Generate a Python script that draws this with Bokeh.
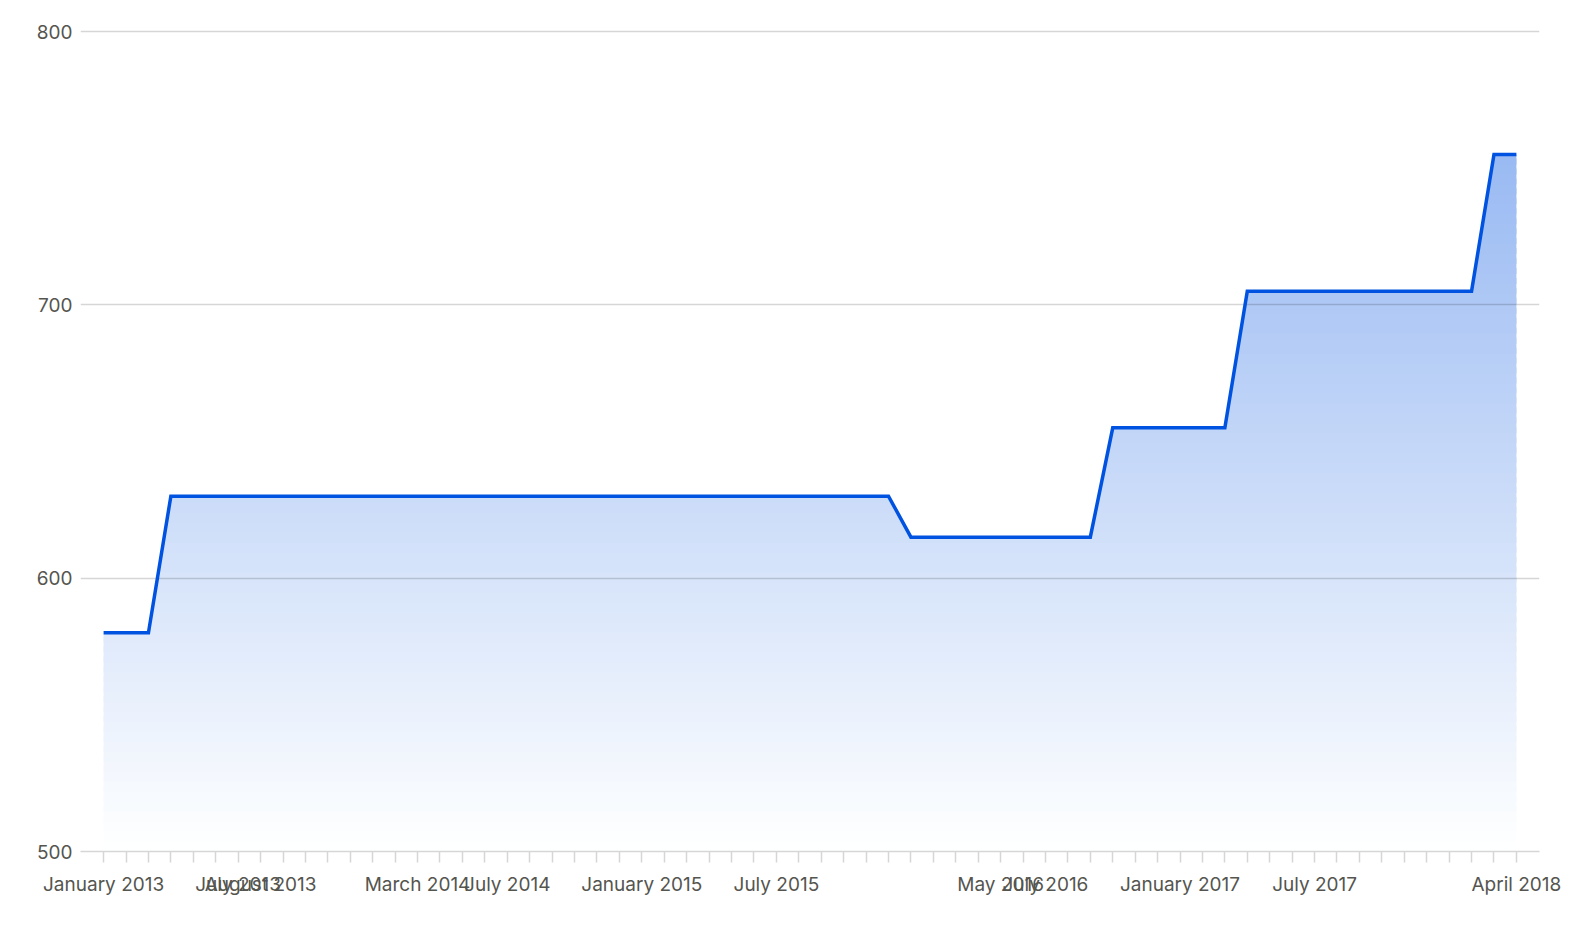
import numpy as np
from bokeh.plotting import figure
from bokeh.models import FixedTicker, Range1d
from bokeh.embed import file_html
from bokeh.resources import INLINE

# ---------------- data ----------------
months = [
    "2013-01", "2013-02", "2013-03", "2013-04", "2013-05", "2013-06", "2013-07", "2013-08",
    "2013-09", "2013-10", "2013-11", "2013-12", "2014-01", "2014-02", "2014-03", "2014-04",
    "2014-05", "2014-06", "2014-07", "2014-08", "2014-09", "2014-10", "2014-11", "2014-12",
    "2015-01", "2015-02", "2015-03", "2015-04", "2015-05", "2015-06", "2015-07", "2015-08",
    "2015-09", "2015-10", "2015-11", "2015-12", "2016-01", "2016-02", "2016-03", "2016-04",
    "2016-05", "2016-06", "2016-07", "2016-08", "2016-09", "2016-10", "2016-11", "2016-12",
    "2017-01", "2017-02", "2017-03", "2017-04", "2017-05", "2017-06", "2017-07", "2017-08",
    "2017-09", "2017-10", "2017-11", "2017-12", "2018-01", "2018-02", "2018-03", "2018-04",
]
values = [
    580, 580, 580, 630, 630, 630, 630, 630,
    630, 630, 630, 630, 630, 630, 630, 630,
    630, 630, 630, 630, 630, 630, 630, 630,
    630, 630, 630, 630, 630, 630, 630, 630,
    630, 630, 630, 630, 615, 615, 615, 615,
    615, 615, 615, 615, 615, 655, 655, 655,
    655, 655, 655, 705, 705, 705, 705, 705,
    705, 705, 705, 705, 705, 705, 755, 755,
]
label_months = ["2013-01", "2013-07", "2013-08", "2014-03", "2014-07", "2015-01",
                "2015-07", "2016-05", "2016-07", "2017-01", "2017-07", "2018-04"]
label_text = ["January 2013", "July 2013", "August 2013", "March 2014", "July 2014",
              "January 2015", "July 2015", "May 2016", "July 2016", "January 2017",
              "July 2017", "April 2018"]
y_ticks = [500, 600, 700, 800]

# ---------------- style ----------------
LINE_RGB = (0, 82, 224)
LINE_COLOR = "#%02x%02x%02x" % LINE_RGB
GRID_COLOR = "#000000"
GRID_ALPHA = 0.16
TEXT_COLOR = "#55554f"
FONT = "Inter"

xs = np.arange(len(months), dtype=float)
vs = np.array(values, dtype=float)

# small headroom above the top tick so that its gridline is not clipped
y_end = y_ticks[-1] + (y_ticks[-1] - y_ticks[0]) * 6 / 820

p = figure(width=1562, height=910,
           x_range=Range1d(-1.03, len(months) - 1 + 1.03),
           y_range=Range1d(y_ticks[0], y_end),
           output_backend="svg", toolbar_location=None,
           min_border_left=80, min_border_right=23,
           min_border_top=25, min_border_bottom=59)
p.outline_line_color = None
p.background_fill_color = "white"
p.border_fill_color = "white"


def clip_profile(x, v, lo, hi):
    """Profile of v clipped to [lo, hi], with crossing points inserted."""
    px, py = [], []
    for i in range(len(x)):
        if i > 0:
            v0, v1 = v[i - 1], v[i]
            ts = []
            for lev in (lo, hi):
                if (v0 - lev) * (v1 - lev) < 0:
                    ts.append((lev - v0) / (v1 - v0))
            for t in sorted(ts):
                px.append(x[i - 1] + t * (x[i] - x[i - 1]))
                py.append(min(max(v0 + t * (v1 - v0), lo), hi))
        px.append(x[i])
        py.append(min(max(v[i], lo), hi))
    return px, py


# vertical gradient under the line: opaque bands, each overlapping the next
base = y_ticks[0]
top = vs.max()
N = 70
step = (top - base) / N
A_TOP = 0.40
for k in range(N):
    lo = base + k * step
    hi = min(lo + 1.6 * step, top)
    A = A_TOP * (k + 0.5) / N
    col = tuple(int(round(255 * (1 - A) + c * A)) for c in LINE_RGB)
    px, py = clip_profile(xs, vs, lo, hi)
    p.varea(x=px, y1=float(lo), y2=py, fill_color="#%02x%02x%02x" % col,
            level="image")

p.line(xs, vs, line_color=LINE_COLOR, line_width=3.5, line_join="miter")

# grid (translucent, drawn over the area)
p.xgrid.grid_line_color = None
p.ygrid.grid_line_color = GRID_COLOR
p.ygrid.grid_line_alpha = GRID_ALPHA
p.ygrid.grid_line_width = 1.5
p.ygrid.ticker = FixedTicker(ticks=y_ticks)

# y axis
p.yaxis.ticker = FixedTicker(ticks=y_ticks)
p.yaxis.axis_line_color = None
p.yaxis.major_tick_line_color = None
p.yaxis.minor_tick_line_color = None
p.yaxis.major_tick_out = 0
p.yaxis.major_tick_in = 0
p.yaxis.major_label_standoff = 8
p.yaxis.major_label_text_font = FONT
p.yaxis.major_label_text_font_size = "19px"
p.yaxis.major_label_text_color = TEXT_COLOR

# x axis
idx = {m: i for i, m in enumerate(months)}
overrides = {i: "" for i in range(len(months))}
for m, t in zip(label_months, label_text):
    overrides[idx[m]] = t
p.xaxis.ticker = FixedTicker(ticks=list(range(len(months))))
p.xaxis.major_label_overrides = overrides
p.xaxis.axis_line_color = "#d6d6d6"
p.xaxis.axis_line_width = 1.5
p.xaxis.major_tick_line_color = "#d6d6d6"
p.xaxis.major_tick_line_width = 1.5
p.xaxis.major_tick_out = 11
p.xaxis.major_tick_in = 0
p.xaxis.minor_tick_line_color = None
p.xaxis.major_label_standoff = 10
p.xaxis.major_label_text_font = FONT
p.xaxis.major_label_text_font_size = "19px"
p.xaxis.major_label_text_color = TEXT_COLOR

open("out.html", "w").write(file_html(p, INLINE))
